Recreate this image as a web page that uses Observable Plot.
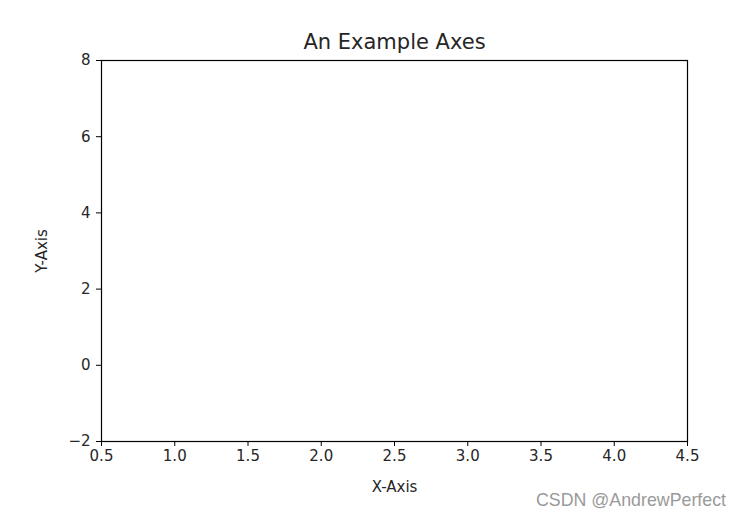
<!DOCTYPE html>
<html>
<head>
<meta charset="utf-8">
<script src="https://cdn.jsdelivr.net/npm/d3@7"></script>
<script src="https://cdn.jsdelivr.net/npm/@observablehq/plot@0.6"></script>
<style>
  html, body { margin: 0; padding: 0; background: #fff; }
  #wrap { position: relative; width: 740px; height: 517px; }
  #wm { position: absolute; left: 536px; top: 490px; font: 17.8px "Liberation Sans", Arial, sans-serif; color: #9a9a9a; white-space: nowrap; }
</style>
</head>
<body>
<div id="wrap"><div id="chart"></div><div id="wm">CSDN @AndrewPerfect</div></div>
<script>
const titleText = "An Example Axes";
const xLabel = "X-Axis";
const yLabel = "Y-Axis";
const xDomain = [0.5, 4.5];
const yDomain = [-2, 8];
const xTicks = [0.5, 1.0, 1.5, 2.0, 2.5, 3.0, 3.5, 4.0, 4.5];
const yTicks = [-2, 0, 2, 4, 6, 8];
const yFmt = d => d < 0 ? "\u2212" + Math.abs(d) : String(d);

const chart = Plot.plot({
  width: 740,
  height: 517,
  marginLeft: 101,
  marginRight: 53,
  marginTop: 60,
  marginBottom: 76,
  style: { fontFamily: "DejaVu Sans", fontSize: "15px", color: "#262626", background: "#fff" },
  x: { domain: xDomain },
  y: { domain: yDomain },
  marks: [
    Plot.axisX({ ticks: xTicks, tickFormat: d3.format(".1f"), tickSize: 5, tickPadding: 4, stroke: "#000", fontSize: 15,
                 label: xLabel, labelAnchor: "center", labelArrow: "none", labelOffset: 50 }),
    Plot.axisY({ ticks: yTicks, tickFormat: yFmt, tickSize: 5, tickPadding: 6, stroke: "#000", fontSize: 15,
                 label: yLabel, labelAnchor: "center", labelArrow: "none", labelOffset: 65 }),
    Plot.frame({ stroke: "#000", strokeWidth: 1.2 }),
    Plot.text([titleText], { frameAnchor: "top", dy: -26, fontSize: 21, fill: "#262626", text: d => d })
  ]
});
document.getElementById("chart").appendChild(chart);
</script>
</body>
</html>
